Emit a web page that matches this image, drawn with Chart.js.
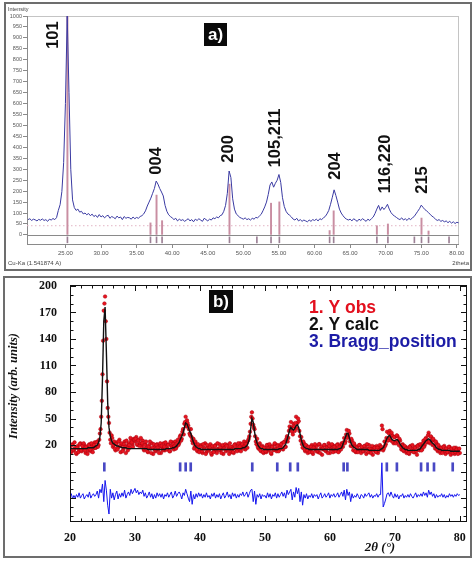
<!DOCTYPE html>
<html><head><meta charset="utf-8">
<script src="https://cdn.jsdelivr.net/npm/chart.js@4/dist/chart.umd.min.js"></script>
<style>
html,body{margin:0;padding:0;background:#fff;width:474px;height:561px;overflow:hidden}
#ca{position:absolute;left:0;top:0}
#cb{position:absolute;left:0;top:272px}
.frame{position:absolute;box-sizing:border-box;pointer-events:none}
#fa{left:4px;top:2px;width:468px;height:269px;border:2px solid #6d6d6d}
#fb{left:3px;top:276px;width:469px;height:282px;border:2px solid #6d6d6d}
</style></head><body>
<canvas id="ca" width="474" height="272"></canvas>
<canvas id="cb" width="474" height="289"></canvas>
<div class="frame" id="fa"></div><div class="frame" id="fb"></div>
<script>
// ---------- Panel a) data ----------
const aStart = 19.75, aStep = 0.25;
const aIntensity = [70,
74,66,72,69, 64,71,67,73, 66,70,62,72, 68,75,70,79,
112,138,198,330, 600,1000,650,300, 160,125,112,118, 104,108,96,100,
92,98,88,95, 84,90,80,93, 82,88,78,86, 90,76,84,80,
74,86,78,82, 70,84,76,80, 78,72,82,74, 80,76,84,88,
96,110,132,150, 168,190,212,246, 232,212,196,178, 135,108,92,84,
78,70,76,64, 72,66,70,62, 68,74,64,70, 60,72,66,74,
68,62,76,70, 64,72,68,78, 74,82,78,88, 92,108,135,190,
292,262,165,118, 96,88,80,76, 72,78,70,74, 68,76,72,80,
78,86,94,110, 128,150,185,228, 242,218,236,250, 276,240,170,130,
108,96,90,82, 72,68,76,64, 70,62,68,64, 60,68,62,70,
66,72,64,74, 70,78,84,96, 112,140,172,206, 180,150,118,100,
88,78,72,68, 72,64,74,68, 62,72,66,74, 68,62,72,66,
74,82,98,118, 135,112,128,116, 126,140,118,102, 92,86,80,74,
70,78,68,74, 66,76,70,78, 84,96,108,120, 136,126,116,110,
102,94,86,80, 72,66,70,62, 66,60,64,56, 62,54,60,52,
58,55];
const aStickPos = [25.28,36.95,37.80,38.58,48.05,53.89,55.06,62.12,62.69,68.76,70.31,75.03,76.02];
const aStickInt = [1000,55,182,65,232,145,151,20,110,42,50,77,18];
const aReflPos = [25.28,36.95,37.80,38.58,48.05,51.9,53.89,55.06,62.12,62.69,68.76,70.31,74.03,75.03,76.02,78.9];
const aBgLevel = 42;
const aHklText = ['101','004','200','105,211','204','116,220','215'];
const aHklX = [23.3,37.85,47.95,54.55,63.0,69.9,75.2];
const aHklY = [913,338,393,443,315,324,251];
const aXTicks = [25,30,35,40,45,50,55,60,65,70,75,80];
const aYTicks = [0,50,100,150,200,250,300,350,400,450,500,550,600,650,700,750,800,850,900,950,1000];

// ---------- Panel b) data ----------
const bStart = 20, bStep = 0.2;
const bObs = [
18,12,21,14,17, 10,19,15,22,13, 16,20,11,18,14, 21,13,19,16,23,
17,24,20,33,52, 100,172,188,140,62, 45,26,31,18,24, 14,23,17,26,12,
20,15,24,11,19, 22,17,25,21,27, 24,29,20,26,22, 19,25,14,21,17,
12,20,16,22,10, 18,13,21,15,19, 11,17,22,14,20, 16,21,13,19,23,
15,24,18,26,22, 31,27,38,44,52, 48,42,33,38,25, 27,18,21,13,19,
14,20,11,17,22, 12,18,15,21,9, 17,13,20,11,16, 21,14,18,10,19,
13,20,16,22,12, 18,11,21,15,19, 14,22,17,20,24, 15,23,25,30,44,
57,43,38,24,27, 16,22,13,19,11, 17,12,20,14,18, 10,19,15,21,13,
20,14,19,22,15, 24,18,30,28,41, 46,35,44,36,52, 45,47,30,29,17,
22,13,19,11,17, 14,20,10,18,15, 19,12,21,16,9, 15,20,13,18,22,
11,17,20,14,19, 16,21,13,19,22, 18,28,24,37,30, 33,19,25,14,20,
12,18,14,20,11, 17,13,19,10,16, 20,12,16,9,18, 13,19,11,17,15,
42,14,24,21,35, 27,36,25,31,22, 29,23,30,20,25, 15,21,13,18,11,
17,10,19,13,16, 12,18,9,20,14, 19,15,25,20,28, 23,34,22,29,20,
25,16,22,13,18, 11,17,13,19,10, 16,12,18,9,15, 14,10,17,12,15,
11];
// observed points lying between the ones above (20.1, 20.3, ... 79.9)
const bObsMidStart = 20.1;
const bObsMid = [
13,20,15,23,11, 17,12,21,14,19, 22,14,18,10,20, 15,22,12,20,17,
23,18,26,38,70, 138,180,160,92,52, 34,22,28,20,16, 21,15,24,19,22,
13,21,18,25,14, 20,28,23,18,26, 27,21,25,19,28, 22,16,20,24,13,
18,24,11,17,21, 14,20,17,11,22, 19,14,18,23,15, 20,13,24,17,21,
19,16,22,20,29, 25,35,32,46,41, 45,38,31,29,22, 16,24,15,21,12,
18,13,21,16,10, 20,14,17,11,19, 12,19,15,22,14, 17,11,20,16,21,
19,14,10,18,15, 12,20,16,13,22, 18,13,21,16,19, 21,17,27,35,52,
50,40,30,21,18, 20,14,18,12,17, 13,20,16,21,11, 18,14,22,16,19,
13,17,21,16,23, 18,27,24,36,38, 40,32,41,45,39, 50,36,25,21,24,
15,20,14,18,12, 18,12,17,21,13, 14,21,11,18,16, 20,14,17,11,19,
15,21,12,18,13, 20,12,18,15,20, 23,22,32,28,36, 24,27,18,22,13,
17,12,20,15,18, 13,19,15,21,12, 16,11,19,14,17, 12,17,14,20,18,
38,16,19,28,25, 33,28,34,24,29, 22,31,24,27,18, 20,14,19,16,13,
11,18,14,20,12, 17,13,19,15,21, 14,22,18,27,24, 31,24,30,25,27,
19,24,15,20,14, 17,11,18,14,16, 12,18,13,16,11, 17,12,15,10,16];
const bCalc = [
16,16,16,16,16, 16,16,16,16,16, 16,16,16,16,17, 17,17,17,17,18,
19,20,23,29,45, 95,160,176,125,68, 40,30,25,22,21, 20,19,19,18,18,
17,17,17,17,16, 16,16,16,16,16, 16,16,16,16,16, 16,16,16,16,16,
15,15,15,15,15, 15,15,15,15,15, 15,15,15,15,16, 16,16,16,16,17,
17,18,19,21,23, 27,30,34,40,45, 44,40,36,33,28, 23,20,18,17,16,
16,15,15,15,15, 15,15,15,15,15, 15,15,15,15,15, 15,15,15,15,15,
15,15,15,15,15, 15,15,16,16,16, 16,16,16,17,17, 18,19,22,27,38,
50,46,35,27,22, 19,17,16,16,15, 15,15,15,15,15, 15,15,15,15,15,
15,16,16,16,17, 19,21,26,31,37, 40,38,37,39,42, 43,40,33,26,21,
18,17,16,16,15, 15,15,15,15,15, 15,15,15,15,15, 15,15,15,15,15,
15,15,15,15,15, 15,15,16,16,17, 21,25,29,33,33, 28,23,20,18,17,
16,15,15,15,15, 15,15,15,15,15, 14,14,14,14,14, 14,14,14,14,15,
16,17,20,24,28, 30,31,28,26,25, 25,26,26,24,21, 19,17,16,15,15,
14,14,14,14,14, 14,14,14,15,15, 17,19,21,23,25, 26,27,26,24,22,
21,19,17,16,15, 15,14,14,14,14, 14,14,14,13,13, 13,13,13,13,13,
13];
const bDiff = [
-38,-35,-41,-37,-40, -36,-39,-34,-40,-37, -35,-41,-38,-36,-39, -33,-40,-37,-35,-38,
-36,-32,-40,-30,-34, -24,-44,-20,-31,-48, -58,-30,-40,-34,-42, -36,-32,-41,-35,-39,
-34,-38,-31,-40,-36, -33,-37,-30,-35,-32, -29,-34,-31,-36,-33, -35,-31,-38,-34,-40,
-37,-33,-39,-35,-41, -36,-40,-34,-38,-35, -39,-35,-41,-36,-38, -34,-39,-36,-33,-40,
-37,-32,-38,-35,-33, -36,-41,-34,-37,-30, -35,-40,-44,-32,-47, -36,-41,-35,-39,-34,
-38,-35,-40,-36,-39, -34,-39,-37,-41,-35, -38,-34,-40,-36,-39, -35,-41,-37,-34,-40,
-37,-33,-39,-36,-41, -34,-38,-35,-40,-36, -39,-35,-37,-33,-38, -36,-33,-39,-35,-31,
-30,-44,-32,-47,-36, -39,-35,-41,-36,-38, -37,-40,-34,-39,-35, -41,-36,-38,-34,-40,
-35,-39,-36,-33,-38, -34,-40,-31,-36,-33, -30,-42,-33,-39,-28, -35,-29,-44,-33,-48,
-36,-40,-35,-41,-37, -39,-35,-40,-36,-38, -36,-41,-37,-34,-40, -38,-35,-39,-37,-34,
-40,-36,-38,-35,-39, -37,-34,-39,-36,-33, -38,-31,-42,-30,-37, -33,-44,-35,-40,-37,
-39,-35,-38,-41,-36, -37,-40,-35,-38,-36, -34,-39,-36,-40,-37, -38,-35,-39,-36,-36,
0,-50,-46,-41,-35, -34,-38,-33,-37,-40, -35,-39,-36,-41,-37, -38,-35,-40,-37,-39,
-36,-39,-35,-38,-40, -37,-34,-39,-36,-38, -35,-38,-33,-37,-34, -39,-31,-36,-33,-38,
-35,-40,-36,-39,-37, -38,-35,-39,-36,-40, -37,-39,-35,-38,-36, -39,-36,-38,-35,-37,
-36];
const bBraggPos = [25.28,36.95,37.80,38.58,48.05,51.9,53.89,55.06,62.12,62.69,68.76,70.31,74.03,75.03,76.02,78.9];
const bXTicks = [20,30,40,50,60,70,80];
const bYTicks = [20,50,80,110,140,170,200];
const bLegend = ['1. Y obs','2. Y calc','3. Bragg_position'];

// ---------- helpers ----------
const SANS = "'Liberation Sans', Arial, sans-serif";
const SERIF = "'Liberation Serif', 'Times New Roman', serif";
Chart.defaults.font.family = SANS;
const xy = (arr, start, step) => arr.map((y, i) => ({x: +(start + i * step).toFixed(2), y}));
function seg(ctx, x1, y1, x2, y2){ctx.beginPath();ctx.moveTo(x1,y1);ctx.lineTo(x2,y2);ctx.stroke();}
function labelBox(ctx, txt, l, t, w, h){
  ctx.fillStyle = '#0a0a0a'; ctx.fillRect(l, t, w, h);
  ctx.fillStyle = '#fff'; ctx.font = 'bold 17px ' + SANS;
  ctx.textAlign = 'center'; ctx.textBaseline = 'middle';
  ctx.fillText(txt, l + w / 2, t + h / 2 + 1);
}

// ---------- Panel a) ----------
const decorA = {
  id: 'decorA',
  beforeDatasetsDraw(chart){
    const {ctx, chartArea: ca, scales: {x, y}} = chart;
    ctx.save(); ctx.lineWidth = 1;
    ctx.strokeStyle = '#c4c4c4';
    ctx.strokeRect(ca.left + 0.5, ca.top + 0.5, ca.right - ca.left - 1, ca.bottom - ca.top - 1);
    ctx.strokeStyle = '#8a8a8a';
    seg(ctx, ca.left + 0.5, ca.top, ca.left + 0.5, ca.bottom);
    seg(ctx, ca.left, ca.bottom - 0.5, ca.right, ca.bottom - 0.5);
    const y0 = Math.round(y.getPixelForValue(0)) + 0.5;
    seg(ctx, ca.left, y0, ca.right, y0);
    ctx.restore();
  },
  afterDraw(chart){
    const {ctx, chartArea: ca, scales: {x, y}} = chart;
    ctx.save();
    ctx.fillStyle = '#111'; ctx.font = 'bold 16.5px ' + SANS;
    ctx.textAlign = 'center'; ctx.textBaseline = 'middle';
    aHklText.forEach((t, i) => {
      ctx.save();
      ctx.translate(x.getPixelForValue(aHklX[i]), y.getPixelForValue(aHklY[i]));
      ctx.rotate(-Math.PI / 2);
      ctx.fillText(t, 0, 0);
      ctx.restore();
    });
    labelBox(ctx, 'a)', 204, 23, 23, 23);
    ctx.fillStyle = '#444'; ctx.font = '5.5px ' + SANS; ctx.textBaseline = 'middle';
    ctx.textAlign = 'left';
    ctx.fillText('Intensity', 8, 9);
    ctx.font = '6px ' + SANS;
    ctx.fillText('Cu-Ka (1.541874 A)', 8, 263);
    ctx.textAlign = 'right';
    ctx.fillText('2theta', 469, 263);
    ctx.restore();
  }
};

new Chart(document.getElementById('ca'), {
  type: 'line',
  data: { datasets: [
    { type: 'line', data: xy(aIntensity, aStart, aStep), borderColor: '#3a3aa2', borderWidth: 1,
      pointRadius: 0, tension: 0, order: 0 },
    { type: 'bar', data: aStickPos.map((p, i) => ({x: p, y: aStickInt[i]})), backgroundColor: '#c98ea2',
      barThickness: 1.3, grouped: false, order: 2 },
    { type: 'bar', data: aReflPos.map(p => ({x: p, y: [-36, -9]})), backgroundColor: '#9c8095',
      barThickness: 1, grouped: false, order: 3 },
    { type: 'line', data: [{x: 19.6, y: aBgLevel}, {x: 80.3, y: aBgLevel}], borderColor: '#e2b4c4',
      borderDash: [1.5, 2.5], borderWidth: 1, pointRadius: 0, order: 4 }
  ]},
  options: {
    responsive: false, animation: false, events: [],
    layout: { padding: { left: 0, top: 16, right: 15, bottom: 0 } },
    plugins: { legend: { display: false }, tooltip: { enabled: false } },
    scales: {
      x: { type: 'linear', min: 19.6, max: 80.3, offset: false,
        afterBuildTicks: s => { s.ticks = aXTicks.map(v => ({value: v})); },
        afterFit: s => { s.height = 27; },
        ticks: { font: { size: 6 }, color: '#555', padding: 2, maxRotation: 0, autoSkip: false,
          callback: v => Number(v).toFixed(2) },
        grid: { drawOnChartArea: false, tickLength: 3, color: '#8a8a8a', offset: false },
        border: { display: false } },
      y: { type: 'linear', min: -46, max: 1000,
        afterBuildTicks: s => { s.ticks = aYTicks.map(v => ({value: v})); },
        afterFit: s => { s.width = 27; },
        ticks: { font: { size: 5.5 }, color: '#555', padding: 1, autoSkip: false, callback: v => String(v) },
        grid: { drawOnChartArea: false, tickLength: 4, color: '#8a8a8a' },
        border: { display: false } }
    }
  },
  plugins: [decorA]
});

// ---------- Panel b) ----------
const decorB = {
  id: 'decorB',
  afterDatasetsDraw(chart){
    const {ctx, chartArea: ca, scales: {x, y}} = chart;
    ctx.save();
    ctx.strokeStyle = '#111'; ctx.lineWidth = 1;
    ctx.strokeRect(ca.left + 0.5, ca.top + 0.5, ca.right - ca.left - 1, ca.bottom - ca.top - 1);
    for (let k = 0; k < 80; k++) {
      const v = 20 + k * 10 / 6;
      if (v > x.max) break;
      const px = Math.round(x.getPixelForValue(v)) + 0.5;
      const L = (k % 6 === 0) ? 6 : 3.5;
      seg(ctx, px, ca.bottom, px, ca.bottom - L);
      seg(ctx, px, ca.top, px, ca.top + L);
    }
    for (let v = -60; v <= 200; v += 10) {
      const py = Math.round(y.getPixelForValue(v)) + 0.5;
      const L = ((v - 20) % 30 === 0) ? 6 : 3.5;
      seg(ctx, ca.left, py, ca.left + L, py);
      seg(ctx, ca.right, py, ca.right - L, py);
    }
    ctx.restore();
  },
  afterDraw(chart){
    const {ctx} = chart;
    ctx.save();
    ctx.fillStyle = '#111'; ctx.font = 'italic bold 12.5px ' + SERIF;
    ctx.textAlign = 'center'; ctx.textBaseline = 'middle';
    ctx.save(); ctx.translate(14, 114); ctx.rotate(-Math.PI / 2);
    ctx.fillText('Intensity (arb. units)', 0, 0); ctx.restore();
    ctx.font = 'italic bold 13px ' + SERIF;
    ctx.fillText('2\u03B8 (\u00B0)', 380, 276);
    const cols = ['#e3101e', '#111111', '#1c1ca6'];
    ctx.font = 'bold 17.5px ' + SANS; ctx.textAlign = 'left';
    bLegend.forEach((t, i) => { ctx.fillStyle = cols[i]; ctx.fillText(t, 309, 36 + i * 17); });
    labelBox(ctx, 'b)', 209, 18, 24, 23);
    ctx.restore();
  }
};

const obsPoints = xy(bObs, bStart, bStep).concat(xy(bObsMid, bObsMidStart, bStep));

new Chart(document.getElementById('cb'), {
  type: 'line',
  data: { datasets: [
    { type: 'line', label: 'Y calc', data: xy(bCalc, bStart, bStep), borderColor: '#111', borderWidth: 1.4,
      pointRadius: 0, tension: 0, order: 0 },
    { type: 'line', label: 'Y obs', data: obsPoints, showLine: false, pointRadius: 1.8,
      pointBackgroundColor: '#e8141f', pointBorderColor: '#a8000c', pointBorderWidth: 0.5, order: 1 },
    { type: 'line', label: 'diff', data: xy(bDiff, bStart, bStep), borderColor: '#1515ee', borderWidth: 1,
      pointRadius: 0, tension: 0, order: 2 },
    { type: 'bar', label: 'Bragg_position', data: bBraggPos.map(p => ({x: p, y: [-9.5, 0]})),
      backgroundColor: '#4848c4', barThickness: 2, grouped: false, order: 3 }
  ]},
  options: {
    responsive: false, animation: false, events: [],
    layout: { padding: { left: 0, top: 13, right: 7, bottom: 0 } },
    plugins: { legend: { display: false }, tooltip: { enabled: false } },
    scales: {
      x: { type: 'linear', min: 20, max: 81.1, offset: false,
        afterBuildTicks: s => { s.ticks = bXTicks.map(v => ({value: v})); },
        afterFit: s => { s.height = 39; },
        ticks: { font: { size: 12, weight: 'bold', family: SERIF }, color: '#111', padding: 0,
          maxRotation: 0, autoSkip: false, callback: v => String(v) },
        grid: { display: false, drawTicks: true, tickLength: 9, offset: false }, border: { display: false } },
      y: { type: 'linear', min: -67, max: 201,
        afterBuildTicks: s => { s.ticks = bYTicks.map(v => ({value: v})); },
        afterFit: s => { s.width = 70; },
        ticks: { font: { size: 12, weight: 'bold', family: SERIF }, color: '#111', padding: 0,
          autoSkip: false, callback: v => String(v) },
        grid: { display: false, drawTicks: true, tickLength: 13 }, border: { display: false } }
    }
  },
  plugins: [decorB]
});
</script>
</body></html>
